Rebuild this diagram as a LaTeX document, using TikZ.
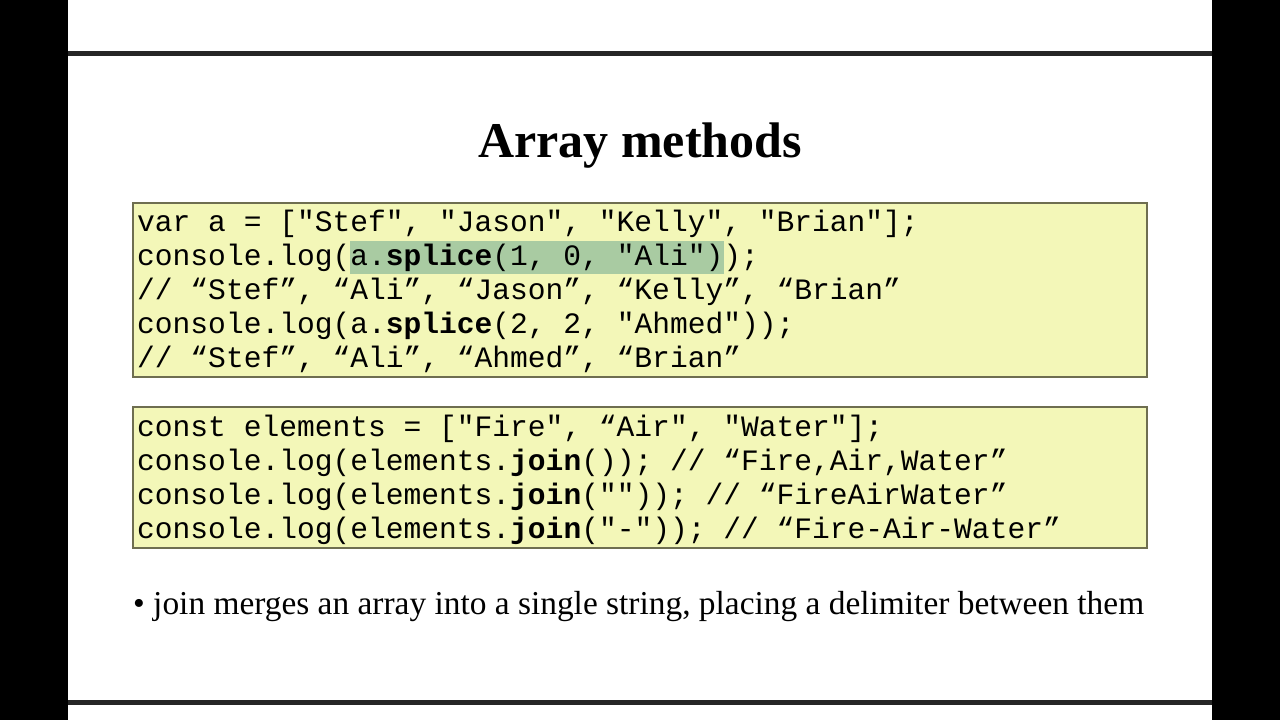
\documentclass[tikz,border=0pt]{standalone}
\usepackage{fontspec}
\setmainfont{Liberation Serif}
\newfontfamily\codefont{Liberation Mono}
\definecolor{codebg}{HTML}{F3F7B8}
\definecolor{codeedge}{HTML}{6E6E50}
\definecolor{hl}{HTML}{A9CBA2}
\tikzset{
  codeline/.style={anchor=base west, inner sep=0pt, font=\codefont\fontsize{29.6}{34}\selectfont},
  codebox/.style={fill=codebg, draw=codeedge, line width=1.2pt},
  rule/.style={fill=black!85, draw=none}
}
\begin{document}
\begin{tikzpicture}[x=1pt,y=-1pt]
\useasboundingbox (0,0) rectangle (1280,720);
\fill[white] (0,0) rectangle (1280,720);
\fill[black] (0,0) rectangle (68,720);
\fill[black] (1212,0) rectangle (1280,720);
\fill[rule] (68,51) rectangle (1212,56);
\fill[rule] (68,700) rectangle (1212,705);
\node[inner sep=0pt, anchor=base, font=\bfseries\fontsize{50}{56}\selectfont] (title) at (640,157) {Array methods};
\draw[codebox] (133,203) rectangle (1147,377);
\fill[hl] (350,241) rectangle (724,274);
\node[codeline] (l1) at (137,231) {var a = ["Stef", "Jason", "Kelly", "Brian"];};
\node[codeline] (l2) at (137,265) {console.log(a.\textbf{splice}(1, 0, "Ali"));};
\node[codeline] (l3) at (137,299) {// “Stef”, “Ali”, “Jason”, “Kelly”, “Brian”};
\node[codeline] (l4) at (137,333) {console.log(a.\textbf{splice}(2, 2, "Ahmed"));};
\node[codeline] (l5) at (137,367) {// “Stef”, “Ali”, “Ahmed”, “Brian”};
\draw[codebox] (133,407) rectangle (1147,548);
\node[codeline] (m1) at (137,436) {const elements = ["Fire", “Air", "Water"];};
\node[codeline] (m2) at (137,470) {console.log(elements.\textbf{join}()); // “Fire,Air,Water”};
\node[codeline] (m3) at (137,504) {console.log(elements.\textbf{join}("")); // “FireAirWater”};
\node[codeline] (m4) at (137,538) {console.log(elements.\textbf{join}("-")); // “Fire-Air-Water”};
\node[anchor=base west, inner sep=0pt, font=\fontsize{33.4}{40}\selectfont] (bullet) at (133,614) {\textbullet\ join merges an array into a single string, placing a delimiter between them};
\end{tikzpicture}
\end{document}
